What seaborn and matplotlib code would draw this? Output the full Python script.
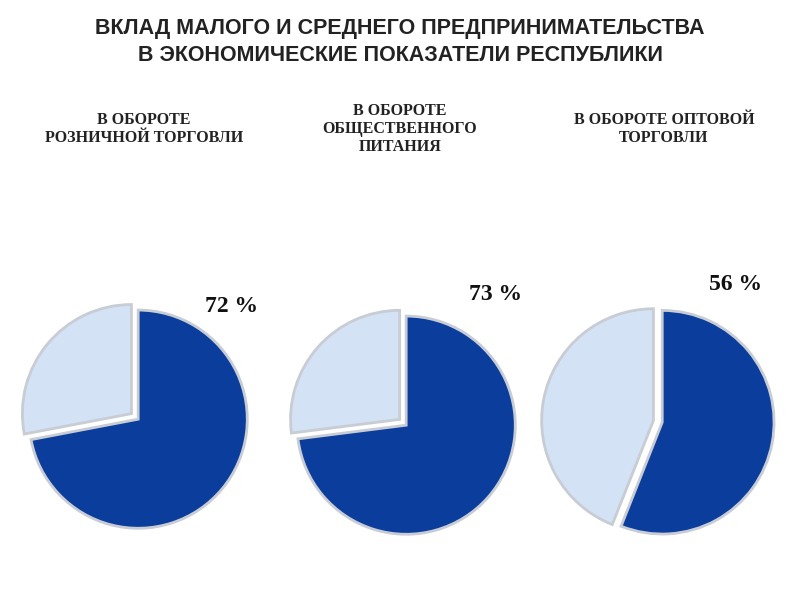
import matplotlib
matplotlib.use("Agg")
import matplotlib.pyplot as plt
import seaborn as sns

sns.set_theme(style="white")
plt.rcParams['font.family'] = ['Liberation Sans', 'DejaVu Sans']

titles = ["В ОБОРОТЕ\nРОЗНИЧНОЙ ТОРГОВЛИ",
          "В ОБОРОТЕ\nОБЩЕСТВЕННОГО\nПИТАНИЯ",
          "В ОБОРОТЕ ОПТОВОЙ\nТОРГОВЛИ"]
shares = [72, 73, 56]
labels = ["72 %", "73 %", "56 %"]

dark = "#0B3D9C"
light = "#D3E2F4"

fig = plt.figure(figsize=(8, 6), dpi=100)
fig.text(0.5, 0.93, "ВКЛАД МАЛОГО И СРЕДНЕГО ПРЕДПРИНИМАТЕЛЬСТВА\nВ ЭКОНОМИЧЕСКИЕ ПОКАЗАТЕЛИ РЕСПУБЛИКИ",
         ha="center", va="center", fontsize=15.5, fontweight="bold", color="#222222", linespacing=1.35)

title_x = [0.18, 0.5, 0.83]
pie_boxes = [(0.02, 0.105, 0.30, 0.40), (0.355, 0.095, 0.30, 0.40), (0.67, 0.095, 0.31, 0.41)]
label_pos = [(0.29, 0.49), (0.62, 0.51), (0.92, 0.525)]

for i in range(3):
    fig.text(title_x[i], 0.785, titles[i], ha="center", va="center", fontsize=11.5,
             fontweight="bold", family="Liberation Serif", color="#222222", linespacing=1.2)
    ax = fig.add_axes(pie_boxes[i])
    ax.pie([shares[i], 100 - shares[i]], colors=[dark, light], startangle=90,
           counterclock=False, explode=[0, 0.08],
           wedgeprops=dict(edgecolor="#C8CCD4", linewidth=2))
    ax.set_xlim(-1.12, 1.08)
    ax.set_ylim(-1.08, 1.12)
    ax.set_aspect("equal")
    fig.text(label_pos[i][0], label_pos[i][1], labels[i], ha="center", va="center",
             fontsize=17, fontweight="bold", family="Liberation Serif", color="#111111")

fig.savefig("out.png", dpi=100, facecolor="white")
